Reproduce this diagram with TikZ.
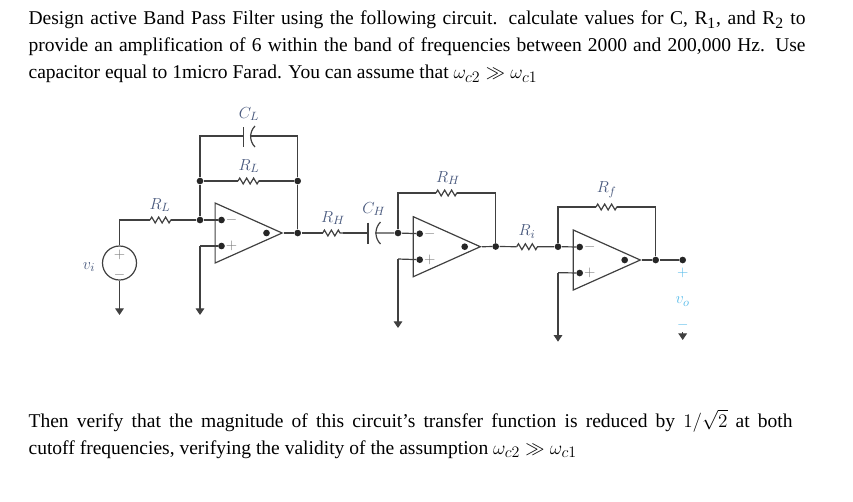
\documentclass[tikz,border=0pt]{standalone}
\usepackage{amsmath}
\usepackage{fontspec}
\setmainfont{Liberation Serif}
\DeclareMathSizes{14.65}{14.65}{11.8}{9}
\usetikzlibrary{arrows.meta, decorations.pathmorphing, shapes.geometric}
\definecolor{wirecol}{HTML}{404040}
\definecolor{labelcol}{HTML}{4A5A7E}
\definecolor{signcol}{HTML}{7C7C7C}
\definecolor{outcol}{HTML}{5CBDEA}
\tikzset{dot/.style={circle,fill=black!85,inner sep=0pt,minimum size=5pt},
  opamp/.style={isosceles triangle,isosceles triangle stretches,draw=wirecol,line width=0.9pt,
    inner sep=0pt,minimum width=45pt,minimum height=50.25pt},
  res/.style={decorate,decoration={zigzag,amplitude=2.2pt,segment length=5.2pt}},
  gnd/.style={-{Triangle[length=5pt,width=6.5pt]}},
  lbl/.style={text=labelcol,font=\fontsize{12.5}{14}\selectfont,inner sep=0pt},
  sign/.style={text=signcol,font=\fontsize{11}{12}\selectfont,inner sep=0pt},
  para/.style={anchor=north west,inner sep=0pt,align=justify,font=\fontsize{14.65}{20.25}\selectfont}}
\begin{document}
\begin{tikzpicture}[x=0.75pt, y=-0.75pt, draw=wirecol, line width=0.9pt]
    \useasboundingbox (0,0) rectangle (853,501);
    \node[para, text width=582.75pt] (top) at (28,10) {Design active Band Pass Filter using the following circuit. calculate values for C, R\textsubscript{1}, and R\textsubscript{2} to\linebreak
      provide an amplification of 6 within the band of frequencies between 2000 and 200,000 Hz. Use\linebreak
      capacitor equal to 1micro Farad. You can assume that $\omega_{c2} \gg \omega_{c1}$};
    \node[para, text width=573pt] (bottom) at (28,409) {Then verify that the magnitude of this circuit’s transfer function is reduced by $1/\sqrt{2}$ at both\linebreak
      cutoff frequencies, verifying the validity of the assumption $\omega_{c2} \gg \omega_{c1}$};

    % op amps
    \foreach \n/\L/\T in {1/214.5/203, 2/412.7/216.7, 3/572.7/230} {
      \node[opamp, anchor=lower side] (a\n) at (\L,\T+30) {};
      \node[dot] (a\n-m) at (\L+7,\T+17) {};
      \node[dot] (a\n-p) at (\L+7,\T+43) {};
      \node[dot] (a\n-o) at (\L+52,\T+30) {};
      \node[sign] (a\n-ms) at (\L+17,\T+17) {$-$};
      \node[sign] (a\n-ps) at (\L+17,\T+43) {$+$};
    }

    % source and first stage
    \node[circle, draw=wirecol, line width=0.9pt, minimum size=25.5pt, inner sep=0pt] (vs) at (119.5,263) {};
    \node[sign] (vs-p) at (119.5,255) {$+$};
    \node[sign] (vs-m) at (119.5,275) {$-$};
    \node[lbl] (vi) at (89,267) {$v_i$};
    \coordinate (in) at (119.5,220);
    \coordinate (vs-g) at (119.5,315);
    \coordinate (r1a) at (150,220);
    \coordinate (r1b) at (171,220);
    \node[dot] (j1) at (200,220) {};
    \node[dot] (j2) at (200,181) {};
    \node[dot] (j3) at (297.7,233) {};
    \node[dot] (j4) at (297.7,181) {};
    \coordinate (tl) at (200,136);
    \coordinate (tr) at (297.7,136);
    \coordinate (cla) at (243.3,136);
    \coordinate (clb) at (249.5,136);
    \coordinate (r2a) at (238,181);
    \coordinate (r2b) at (259,181);
    \coordinate (p1) at (200,246);
    \coordinate (p1-g) at (200,315);
    \draw (vs.north) -- (in) -- (r1a);
    \draw[res] (r1a) -- (r1b);
    \draw (r1b) -- (j1) -- (a1-m);
    \draw (a1-p) -- (p1);
    \draw[gnd] (p1) -- (p1-g);
    \draw[gnd] (vs.south) -- (vs-g);
    \draw (j1) -- (j2) -- (tl) -- (cla);
    \draw (clb) -- (tr) -- (j4) -- (j3);
    \draw (243.3,127) -- (243.3,146.5);
    \draw (255,126) to[bend right=45] (255,147);
    \draw (j2) -- (r2a);
    \draw[res] (r2a) -- (r2b);
    \draw (r2b) -- (j4);
    \draw (a1.apex) -- (j3);
    \node[lbl] (l1) at (160,205) {$R_L$};
    \node[lbl] (l2) at (249,166) {$R_L$};
    \node[lbl] (l3) at (249,114) {$C_L$};

    % second stage
    \coordinate (r3a) at (322.7,233);
    \coordinate (r3b) at (343,233);
    \coordinate (cha) at (368,233);
    \coordinate (chb) at (375,233);
    \node[dot] (j5) at (398,233) {};
    \coordinate (t5) at (398,193);
    \coordinate (r4a) at (436,193);
    \coordinate (r4b) at (457,193);
    \coordinate (t6) at (495.7,193);
    \node[dot] (j6) at (495.7,246.5) {};
    \coordinate (p2) at (398,259);
    \coordinate (p2-g) at (398,328);
    \draw (j3) -- (r3a);
    \draw[res] (r3a) -- (r3b);
    \draw (r3b) -- (cha);
    \draw (368,222.5) -- (368,243.5);
    \draw (380.5,222) to[bend right=45] (380.5,244);
    \draw (chb) -- (j5) -- (a2-m);
    \draw (j5) -- (t5) -- (r4a);
    \draw[res] (r4a) -- (r4b);
    \draw (r4b) -- (t6) -- (j6);
    \draw (a2.apex) -- (j6);
    \draw (a2-p) -- (p2);
    \draw[gnd] (p2) -- (p2-g);
    \node[lbl] (l4) at (333,218) {$R_H$};
    \node[lbl] (l5) at (374,209) {$C_H$};
    \node[lbl] (l6) at (448,178) {$R_H$};

    % third stage
    \coordinate (r5a) at (516.7,246.7);
    \coordinate (r5b) at (538,246.7);
    \node[dot] (j7) at (558,246.7) {};
    \coordinate (t7) at (558,207);
    \coordinate (r6a) at (596,207);
    \coordinate (r6b) at (617,207);
    \coordinate (t8) at (655.7,207);
    \node[dot] (j8) at (655.7,260) {};
    \node[dot] (vo-t) at (682.7,260) {};
    \coordinate (p3) at (558,272.7);
    \coordinate (p3-g) at (558,341.7);
    \coordinate (vo-a) at (682.7,332);
    \coordinate (vo-g) at (682.7,340);
    \draw (j6) -- (r5a);
    \draw[res] (r5a) -- (r5b);
    \draw (r5b) -- (j7) -- (a3-m);
    \draw (j7) -- (t7) -- (r6a);
    \draw[res] (r6a) -- (r6b);
    \draw (r6b) -- (t8) -- (j8);
    \draw (a3.apex) -- (j8) -- (vo-t);
    \draw (a3-p) -- (p3);
    \draw[gnd] (p3) -- (p3-g);
    \draw[gnd] (vo-a) -- (vo-g);
    \node[lbl] (l7) at (527,231.7) {$R_i$};
    \node[lbl] (l8) at (606.7,190) {$R_f$};
    \node[sign, text=outcol] (vo-p) at (682.7,272.7) {$+$};
    \node[lbl, text=outcol] (vo) at (682.7,301.7) {$v_o$};
    \node[sign, text=outcol] (vo-m) at (682.7,325) {$-$};
\end{tikzpicture}
\end{document}
